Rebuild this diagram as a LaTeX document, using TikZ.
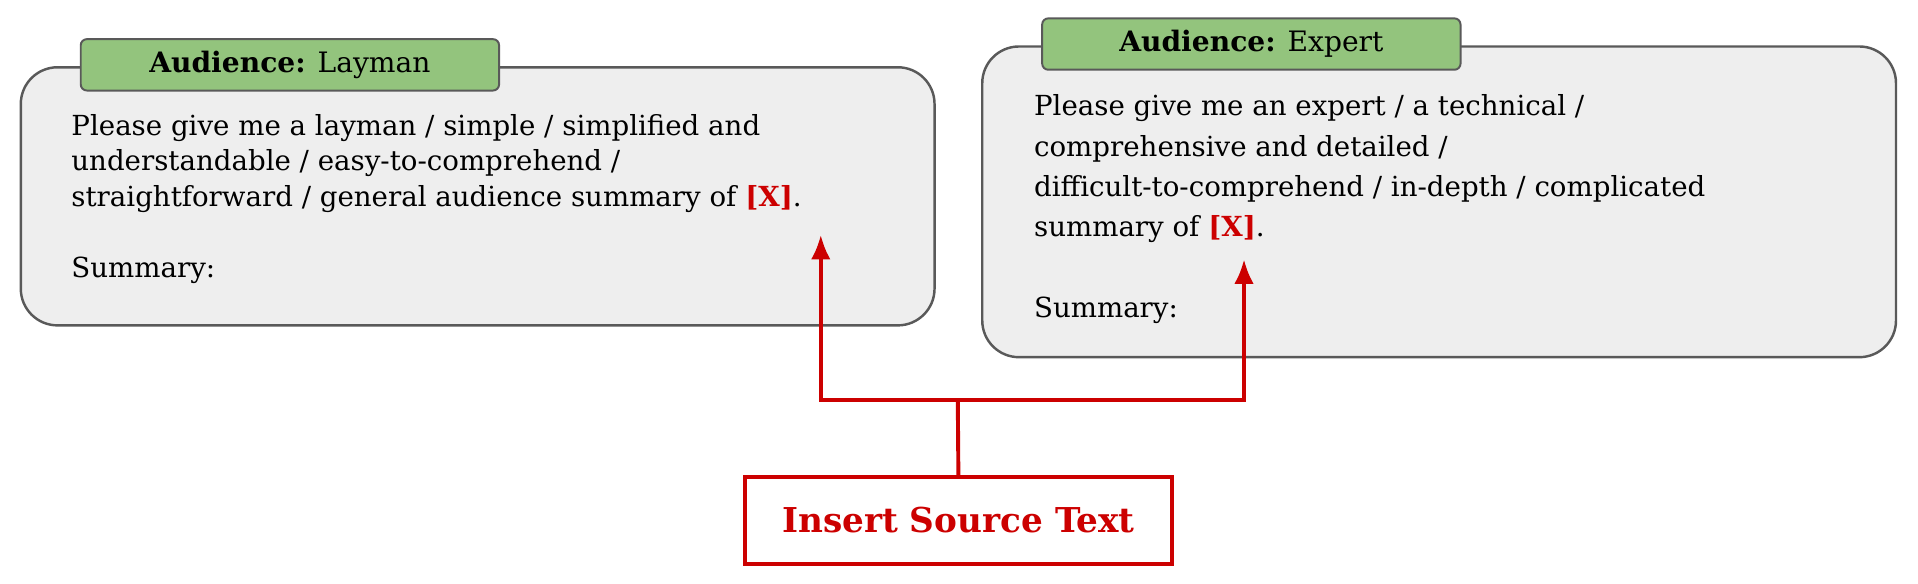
\documentclass[tikz,border=0pt]{standalone}
\usepackage{fontspec}
\setmainfont{DejaVu Serif}
\usetikzlibrary{arrows.meta}
\definecolor{boxfill}{HTML}{EEEEEE}
\definecolor{boxline}{HTML}{595959}
\definecolor{tabgreen}{HTML}{93C47D}
\definecolor{xred}{HTML}{CC0000}
\begin{document}
\begin{tikzpicture}[x=0.5pt,y=-0.5pt,
  panel/.style={draw=boxline,line width=1pt,fill=boxfill,rounded corners=15pt},
  tab/.style={draw=boxline,line width=0.8pt,fill=tabgreen,rounded corners=2.5pt,minimum width=171pt,minimum height=21pt,inner sep=0pt,font=\fontsize{11.5}{13}\selectfont},
  body/.style={anchor=north west,align=left,inner sep=0pt,text=black},
  conn/.style={draw=xred,line width=1.6pt},
  src/.style={draw=xred,line width=1.6pt,fill=white,minimum width=174.5pt,minimum height=35.5pt,inner sep=0pt,text=xred,font=\fontsize{14}{16}\selectfont\bfseries}]
\useasboundingbox (0,0) rectangle (1568,477);
\path[panel] (17,55) rectangle (764,266);
\path[panel] (803,38) rectangle (1550,292);
\node[tab] (tabL) at (237,53) {\textbf{Audience:} Layman};
\node[tab] (tabR) at (1023,36) {\textbf{Audience:} Expert};
\node[body,font=\fontsize{11.3}{14.5}\selectfont] (txtL) at (58,93) {Please give me a layman / simple / simplified and\\understandable / easy-to-comprehend /\\straightforward / general audience summary of \textcolor{xred}{\textbf{[X]}}.\\[14.5pt]Summary:};
\node[body,font=\fontsize{11.3}{16.5}\selectfont] (txtR) at (845,77) {Please give me an expert / a technical /\\comprehensive and detailed /\\difficult-to-comprehend / in-depth / complicated\\summary of \textcolor{xred}{\textbf{[X]}}.\\[16.5pt]Summary:};
\node[src] (source) at (783.5,425.5) {Insert Source Text};
\coordinate (split) at (783,327);
\coordinate (tipL) at (671,192);
\coordinate (tipR) at (1017,212);
\draw[conn] (source.north) -- (split);
\draw[conn,-{Latex[length=10pt,width=8pt]}] (split) -| (tipL);
\draw[conn,-{Latex[length=10pt,width=8pt]}] (split) -| (tipR);
\end{tikzpicture}
\end{document}
